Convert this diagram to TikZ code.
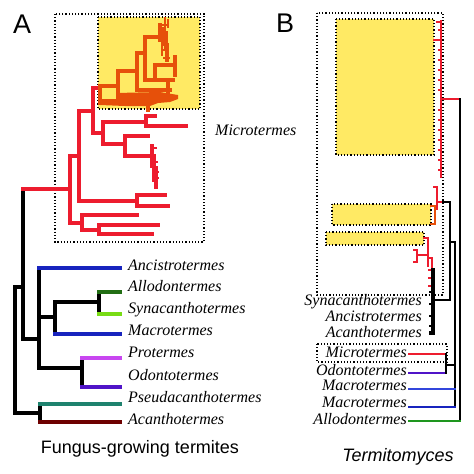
\documentclass[tikz,border=0pt]{standalone}
\usepackage{fontspec}
\setmainfont{Liberation Serif}
\setsansfont{Liberation Sans}
\definecolor{tred}{RGB}{237,28,46}
\definecolor{torange}{RGB}{230,80,10}
\definecolor{tyellow}{RGB}{255,234,100}
\definecolor{tblue}{RGB}{24,36,190}
\definecolor{tdgreen}{RGB}{34,110,20}
\definecolor{tlgreen}{RGB}{120,220,20}
\definecolor{tmag}{RGB}{200,70,240}
\definecolor{tpurp}{RGB}{80,20,200}
\definecolor{tteal}{RGB}{30,130,110}
\definecolor{tdred}{RGB}{110,0,0}
\definecolor{tbblue}{RGB}{50,70,220}
\definecolor{tgreen}{RGB}{30,150,30}
\begin{document}
\begin{tikzpicture}[x=1pt,y=-1pt,
  ta/.style={line width=3.4pt,line cap=rect},
  tb/.style={line width=2.4pt,line cap=rect},
  tc/.style={line width=1.6pt,line cap=rect},
  dotbox/.style={draw,dotted,line width=1.2pt},
  ybox/.style={dotbox,fill=tyellow},
  lab/.style={font=\fontsize{16}{16}\selectfont\itshape,inner sep=0pt},
  panel/.style={font=\sffamily\fontsize{27}{27}\selectfont,inner sep=0pt,anchor=base west},
  captext/.style={font=\sffamily\fontsize{18}{18}\selectfont,inner sep=0pt,anchor=base}]
\useasboundingbox (0,0) rectangle (474,474);
\fill[white] (0,0) rectangle (474,474);

% ---------------- Panel A ----------------
\node[panel] (pA) at (13,33) {A};
\draw[dotbox] (55,14) rectangle (204,242);
\draw[ybox] (98,17) rectangle (200,109);

% black backbone
\draw[ta] (23,287) -- (15,287) -- (15,413) -- (40,413);
\draw[ta] (23,189) -- (23,339) -- (39,339);
\draw[ta] (39,268) -- (39,368) -- (82,368);
\draw[ta] (39,317) -- (55,317);
\draw[ta] (55,302) -- (55,334);
\draw[ta] (55,302) -- (99,302);
\draw[ta] (99,292) -- (99,314);
\draw[ta] (82,358) -- (82,387);
\draw[ta] (40,404) -- (40,422);
% coloured leaves
\draw[ta,tblue] (39,268) -- (120,268);
\draw[ta,tdgreen] (99,292) -- (120,292);
\draw[ta,tlgreen] (99,314) -- (120,314);
\draw[ta,tblue] (55,334) -- (120,334);
\draw[ta,tmag] (82,358) -- (120,358);
\draw[ta,tpurp] (82,387) -- (120,387);
\draw[ta,tteal] (40,404) -- (120,404);
\draw[ta,tdred] (40,422) -- (120,422);

% red Microtermes subtree
\draw[ta,tred] (23,189) -- (70,189);
\draw[ta,tred] (70,156) -- (70,223);
\draw[ta,tred] (70,156) -- (79,156);
\draw[ta,tred] (79,111) -- (79,201);
\draw[ta,tred] (79,111) -- (93,111);
\draw[ta,tred] (93,88) -- (93,133);
\draw[ta,tred] (93,88) -- (100,88);
\draw[ta,tred] (93,133) -- (103,133);
\draw[ta,tred] (103,122) -- (103,144);
\draw[ta,tred] (103,122) -- (146,122);
\draw[ta,tred] (146,116) -- (146,126);
\draw[ta,tred] (146,116) -- (155,116);
\draw[ta,tred] (146,126) -- (186,126);
\draw[ta,tred] (103,144) -- (125,144);
\draw[ta,tred] (125,136) -- (125,156);
\draw[ta,tred] (125,136) -- (148,136);
\draw[ta,tred] (125,156) -- (152,156);
\draw[ta,tred] (152,146) -- (152,166);
\draw[ta,tred] (154,156) -- (154,180);
\draw[ta,tred] (156,168) -- (156,187);
\draw[tb,tred] (152,148) -- (156,148);
\draw[tb,tred] (152,162) -- (157,162);
\draw[tb,tred] (154,172) -- (158,172);
\draw[tb,tred] (154,178) -- (158,178);
\draw[ta,tred] (79,201) -- (137,201);
\draw[ta,tred] (137,195) -- (137,206);
\draw[ta,tred] (137,195) -- (165,195);
\draw[ta,tred] (137,206) -- (168,206);
\draw[ta,tred] (70,223) -- (82,223);
\draw[ta,tred] (82,215) -- (82,230);
\draw[ta,tred] (82,215) -- (137,215);
\draw[ta,tred] (82,230) -- (99,230);
\draw[ta,tred] (99,225) -- (99,234);
\draw[ta,tred] (99,225) -- (158,225);
\draw[ta,tred] (99,234) -- (152,234);

% orange cluster
\draw[ta,torange] (100,86) -- (100,103);
\draw[ta,torange] (100,86) -- (118,86);
\draw[ta,torange] (118,71) -- (118,100);
\draw[ta,torange] (118,71) -- (137,71);
\draw[ta,torange] (137,53) -- (137,90);
\draw[ta,torange] (137,53) -- (145,53);
\draw[ta,torange] (145,37) -- (145,80);
\draw[ta,torange] (145,37) -- (160,37);
\draw[ta,torange] (145,80) -- (173,80);
\draw[ta,torange] (155,65) -- (155,80);
\draw[ta,torange] (155,65) -- (175,65);
\draw[ta,torange] (175,57) -- (175,75);
\draw[ta,torange] (137,90) -- (170,90);
\draw[ta,torange] (168,84) -- (168,92);
\fill[torange] (116,93) -- (160,92) -- (178,95) -- (178,99) -- (170,102) -- (158,103) -- (150,106) -- (125,106) -- (100,105) -- (100,99) -- (116,99) -- cycle;
\draw[ta,torange] (148,103) -- (148,110);
\draw[tb,torange] (165,18) -- (165,30);
\draw[tb,torange] (168,20) -- (168,27);
\draw[ta,torange] (160,25) -- (160,40);
\draw[tb,torange] (163,28) -- (163,45);
\draw[ta,torange] (166,33) -- (166,48);
\draw[tb,torange] (162,42) -- (162,55);
\draw[ta,torange] (167,45) -- (167,60);
\draw[tb,torange] (160,25) -- (168,25);
\draw[tb,torange] (160,38) -- (166,38);
\draw[tb,torange] (162,50) -- (167,50);
\draw[tb,torange] (164,58) -- (169,58);

\node[lab,anchor=mid west] (mA)  at (215,133) {Microtermes};
\node[lab,anchor=mid west] (aA1) at (128,268) {Ancistrotermes};
\node[lab,anchor=mid west] (aA2) at (128,289) {Allodontermes};
\node[lab,anchor=mid west] (aA3) at (128,311) {Synacanthotermes};
\node[lab,anchor=mid west] (aA4) at (128,333) {Macrotermes};
\node[lab,anchor=mid west] (aA5) at (128,355) {Protermes};
\node[lab,anchor=mid west] (aA6) at (128,378) {Odontotermes};
\node[lab,anchor=mid west] (aA7) at (128,400) {Pseudacanthotermes};
\node[lab,anchor=mid west] (aA8) at (128,422) {Acanthotermes};
\node[captext] (capA) at (140,453) {Fungus-growing termites};

% ---------------- Panel B ----------------
\node[panel] (pB) at (276,32) {B};
\draw[dotbox] (317,13) rectangle (443,295);
\draw[ybox] (336,19) rectangle (434,155);
\draw[ybox] (332,204) rectangle (431,225);
\draw[ybox] (326,232) rectangle (424,245);
\draw[dotbox] (317,344) rectangle (447,362);

% big red comb
\draw[tb,tred] (441,21) -- (441,177);
\foreach \yy in {30,50,60,70,80,90,110,120,130,140,150,160,170}
  \draw[tc,tred] (439,\yy) -- (441,\yy);
\draw[tb,tred] (434,40) -- (441,40);
\draw[tb,tred] (437,22) -- (441,22);
\draw[tb,tred] (441,99) -- (460,99);
\draw[tb] (460,99) -- (460,421);

% second group
\draw[tb,torange] (431,206) -- (435,206) -- (435,224) -- (431,224);
\draw[tb,tred] (434,187) -- (437,187) -- (437,209);
\draw[tb,tred] (437,202) -- (443,202);
\draw[tb] (443,202) -- (450,202) -- (450,300) -- (433,300);
\draw[tb] (450,242) -- (455,242) -- (455,407);

% lower red group
\draw[tb,tred] (424,238) -- (428,238) -- (428,266);
\draw[tb,tred] (414,250) -- (417,250) -- (417,262) -- (414,262);
\draw[tb,tred] (417,255) -- (428,255);
\draw[tb,tred] (428,258) -- (432,258) -- (432,290);
\foreach \yy in {270,278,286}
  \draw[tc,tred] (429,\yy) -- (432,\yy);
\draw[line width=3.2pt,line cap=rect] (433,270) -- (433,333) -- (431,333);
\foreach \yy in {292,304,316,326}
  \draw[tc] (430,\yy) -- (433,\yy);

% bottom leaves
\draw[tb,tred] (409,354) -- (446,354);
\draw[tb,tpurp] (409,373) -- (446,373);
\draw[tb] (446,354) -- (446,373);
\draw[tb] (446,365) -- (455,365);
\draw[tb,tbblue] (409,389) -- (455,389);
\draw[tb,tblue] (409,407) -- (455,407);
\draw[tb,tgreen] (409,421) -- (460,421);

\node[lab,anchor=mid east] (bB1) at (422,303) {Synacanthotermes};
\node[lab,anchor=mid east] (bB2) at (422,319) {Ancistrotermes};
\node[lab,anchor=mid east] (bB3) at (422,335) {Acanthotermes};
\node[lab,anchor=mid east] (bB4) at (407,355) {Microtermes};
\node[lab,anchor=mid east] (bB5) at (407,373) {Odontotermes};
\node[lab,anchor=mid east] (bB6) at (407,388) {Macrotermes};
\node[lab,anchor=mid east] (bB7) at (407,405) {Macrotermes};
\node[lab,anchor=mid east] (bB8) at (407,422) {Allodontermes};
\node[captext,font=\sffamily\itshape\fontsize{18}{18}\selectfont] (capB) at (398,461) {Termitomyces};
\end{tikzpicture}
\end{document}
